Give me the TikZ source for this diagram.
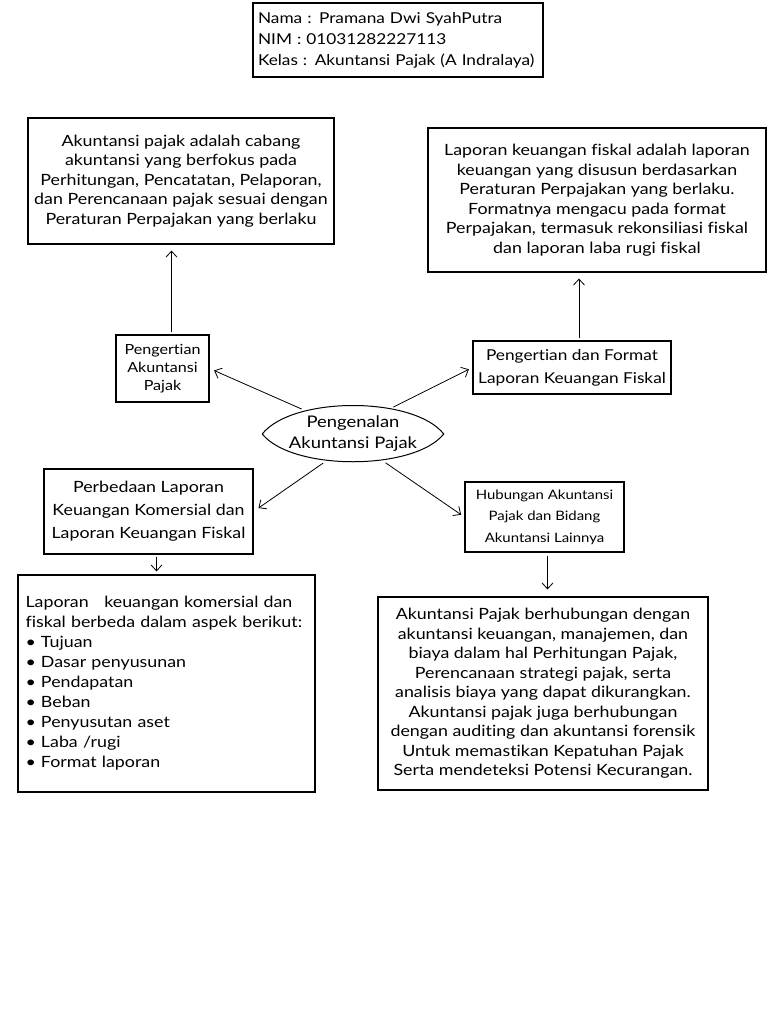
\documentclass[tikz,border=0pt]{standalone}
\usepackage{fontspec}
\setmainfont{Lato}[FakeStretch=1.15,Ligatures={NoCommon}]
\usetikzlibrary{arrows.meta,shapes.geometric,calc}
\begin{document}
\begin{tikzpicture}[x=1pt,y=-1pt,
  box/.style={draw,line width=1.1pt,inner sep=0pt,align=center},
  arr/.style={-{Straight Barb[length=6pt,width=11pt]},line width=0.8pt}]
\useasboundingbox[fill=white] (0,0) rectangle (768,1024);

\node[box,align=left,minimum width=290,minimum height=74,text width=280,
      font=\fontsize{15}{21}\selectfont] (hdr) at (398,40)
  {Nama : Pramana Dwi SyahPutra\\NIM : 01031282227113\\Kelas : Akuntansi Pajak (A Indralaya)};

\node[box,font=\fontsize{15.5}{19.5}\selectfont,minimum width=306,minimum height=126] (A) at (181,181)
  {Akuntansi pajak adalah cabang\\akuntansi yang berfokus pada\\Perhitungan, Pencatatan, Pelaporan,\\dan Perencanaan pajak sesuai dengan\\Peraturan Perpajakan yang berlaku};

\node[box,font=\fontsize{15.5}{19.5}\selectfont,minimum width=338,minimum height=144] (B) at (597,200)
  {Laporan keuangan fiskal adalah laporan\\keuangan yang disusun berdasarkan\\Peraturan Perpajakan yang berlaku.\\Formatnya mengacu pada format\\Perpajakan, termasuk rekonsiliasi fiskal\\dan laporan laba rugi fiskal};

\node[box,font=\fontsize{14}{18}\selectfont,minimum width=93,minimum height=67] (PA) at (162.5,368.5)
  {Pengertian\\Akuntansi\\Pajak};

\node[box,font=\fontsize{15}{23}\selectfont,minimum width=198,minimum height=53] (PF) at (572,367.5)
  {Pengertian dan Format\\Laporan Keuangan Fiskal};

\node[ellipse,inner sep=0pt,minimum width=170,minimum height=57,align=center,
      font=\fontsize{16}{21}\selectfont] (E) at (353,434)
  {Pengenalan\\Akuntansi Pajak};
\draw[line width=1pt] (E.west) .. controls ($(E.west)+(30,-38)$) and ($(E.east)+(-30,-38)$) .. (E.east)
  .. controls ($(E.east)+(-30,37)$) and ($(E.west)+(30,37)$) .. (E.west);

\node[box,font=\fontsize{15.5}{23}\selectfont,minimum width=209,minimum height=85] (PB) at (148.5,511.5)
  {Perbedaan Laporan\\Keuangan Komersial dan\\Laporan Keuangan Fiskal};

\node[box,font=\fontsize{13}{21.5}\selectfont,minimum width=159,minimum height=70] (HB) at (544.5,517)
  {Hubungan Akuntansi\\Pajak dan Bidang\\Akuntansi Lainnya};

\node[box,align=left,text width=282,minimum width=297,minimum height=217,
      font=\fontsize{15.5}{20}\selectfont] (BL) at (166.5,683.5)
  {Laporan\quad keuangan komersial dan\\fiskal berbeda dalam aspek berikut:\\
   \textbullet\ Tujuan\\\textbullet\ Dasar penyusunan\\\textbullet\ Pendapatan\\\textbullet\ Beban\\
   \textbullet\ Penyusutan aset\\\textbullet\ Laba /rugi\\\textbullet\ Format laporan};

\node[box,minimum width=330,minimum height=193,font=\fontsize{15.5}{19.5}\selectfont] (BR) at (543,693.5)
  {Akuntansi Pajak berhubungan dengan\\akuntansi keuangan, manajemen, dan\\biaya dalam hal Perhitungan Pajak,\\Perencanaan strategi pajak, serta\\analisis biaya yang dapat dikurangkan.\\Akuntansi pajak juga berhubungan\\dengan auditing dan akuntansi forensik\\Untuk memastikan Kepatuhan Pajak\\Serta mendeteksi Potensi Kecurangan.};

\draw[arr,shorten <=2pt,shorten >=6pt] ([xshift=9pt]PA.north) -- ([xshift=9pt]PA.north |- A.south);
\draw[arr,shorten <=2pt,shorten >=6pt] ([xshift=7pt]PF.north) -- ([xshift=7pt]PF.north |- B.south);
\draw[arr,shorten <=2pt,shorten >=5pt] (E.154) -- (PA.east);
\draw[arr,shorten <=2pt,shorten >=4pt] (E.34) -- (PF.west);
\draw[arr,shorten <=3pt,shorten >=6pt] (E.225) -- (PB.east);
\draw[arr,shorten <=3pt,shorten >=4pt] (E.318) -- (HB.west);
\draw[arr,shorten <=2pt,shorten >=3pt] ([xshift=8pt]PB.south) -- ([xshift=8pt]PB.south |- BL.north);
\draw[arr,shorten <=3pt,shorten >=7pt] ([xshift=3pt]HB.south) -- ([xshift=3pt]HB.south |- BR.north);
\end{tikzpicture}
\end{document}
